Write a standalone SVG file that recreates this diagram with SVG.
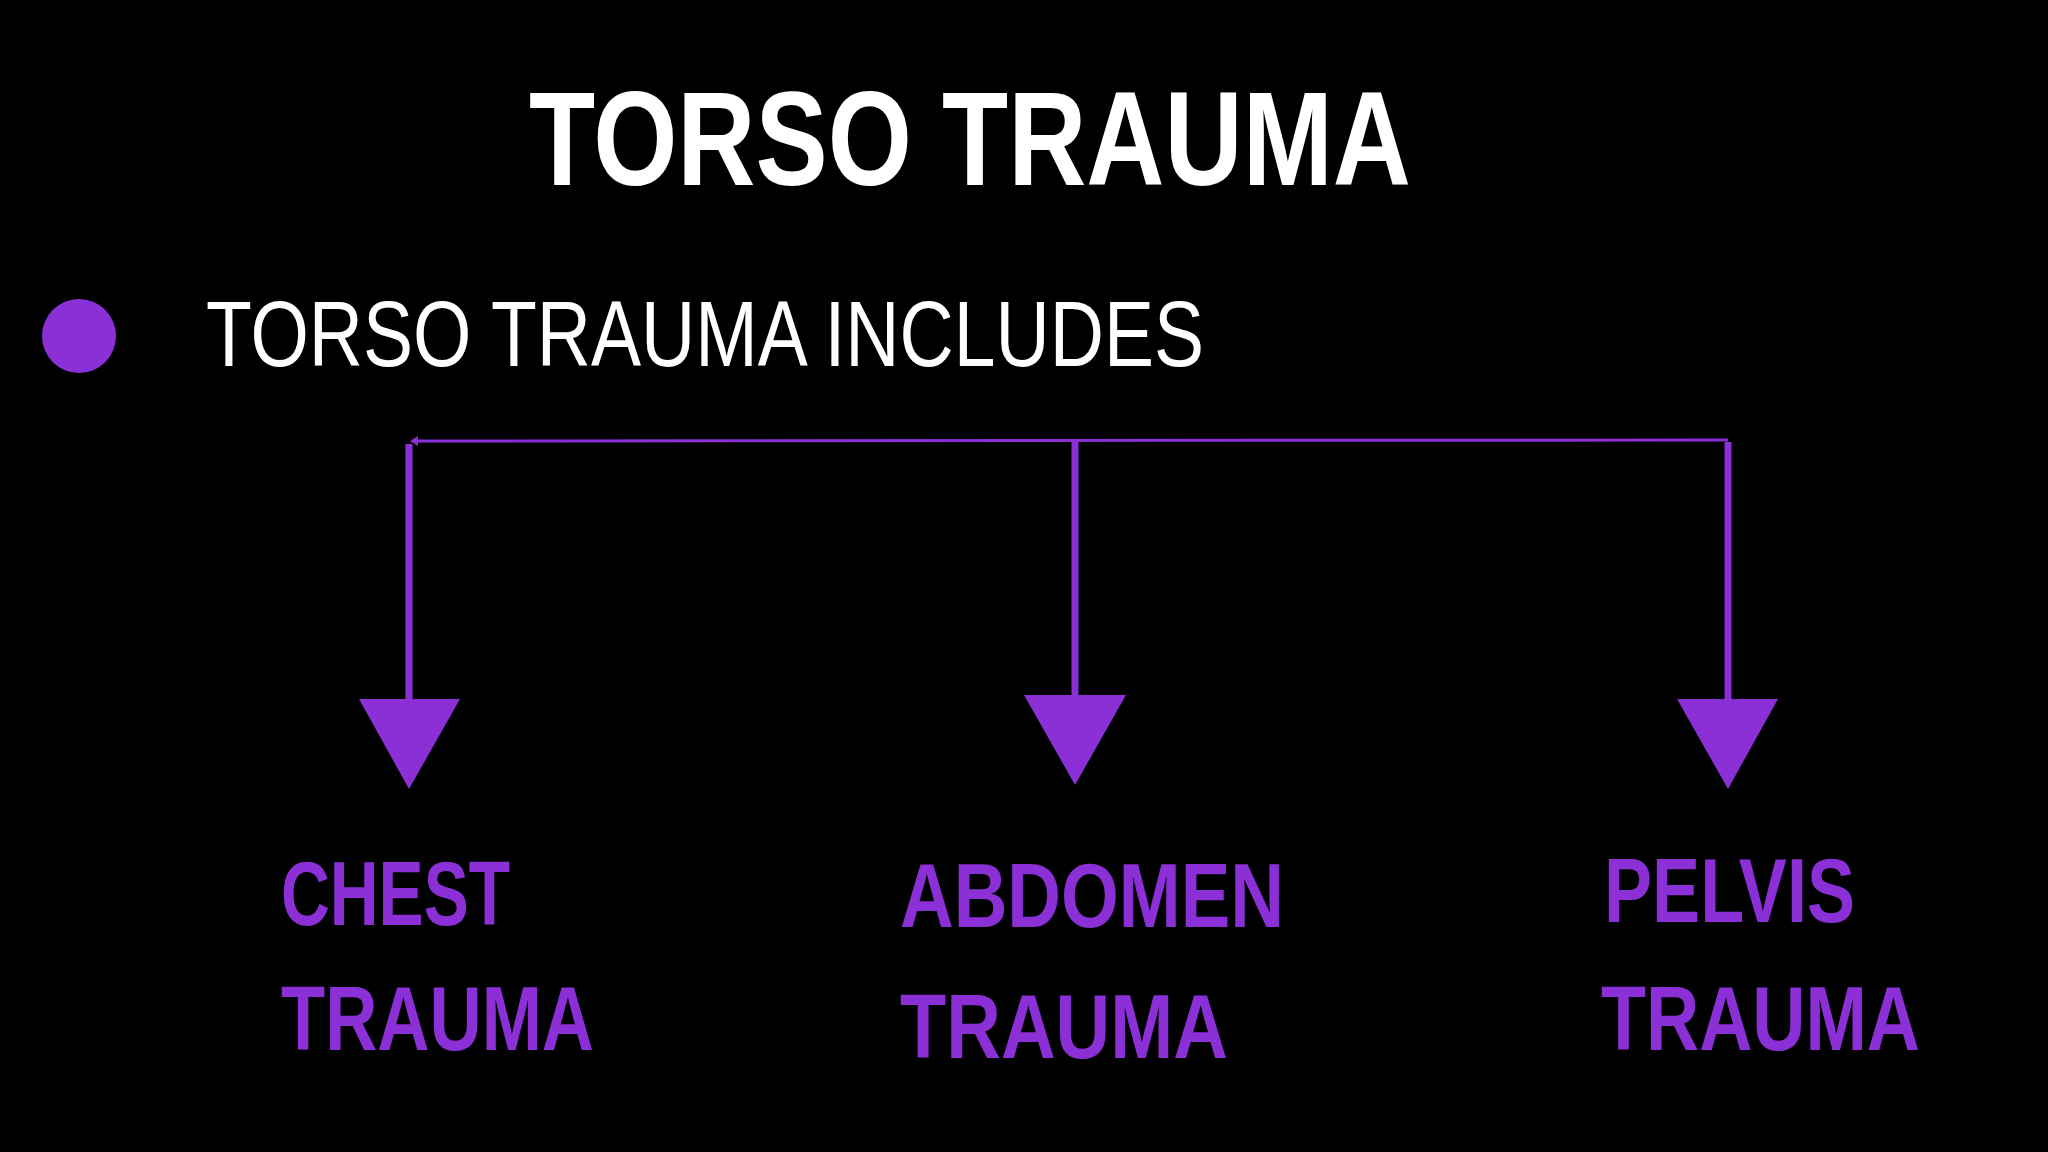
<svg xmlns="http://www.w3.org/2000/svg" width="2048" height="1152" viewBox="0 0 2048 1152">
<style>
.t{font-family:"Liberation Sans",Arial,sans-serif;font-weight:bold;fill:#8b2fd6;font-size:90px}
.v{stroke:#8b2fd6;stroke-width:7}
.h{fill:#8b2fd6}
</style>
<rect width="2048" height="1152" fill="#000"/>
<g id="title"><text x="529" y="185" font-family="Liberation Sans,Arial,sans-serif" font-weight="bold" font-size="134" fill="#fff" textLength="882" lengthAdjust="spacingAndGlyphs">TORSO TRAUMA</text></g>
<g id="bullet"><circle cx="79" cy="336" r="37" fill="#8b2fd6"/>
<text x="206" y="366" font-family="Liberation Sans,Arial,sans-serif" font-size="92" fill="#fff" textLength="998" lengthAdjust="spacingAndGlyphs">TORSO TRAUMA INCLUDES</text></g>
<g id="connectors">
<line x1="1728" y1="440" x2="412" y2="441" stroke="#8b2fd6" stroke-width="3"/>
<path d="M410 441 L418 436 L418 446 Z" fill="#8b2fd6"/>
<line class="v" x1="409" y1="444" x2="409" y2="702"/>
<path class="h" d="M359 699 L460 699 L409 789 Z"/>
<line class="v" x1="1075" y1="440" x2="1075" y2="698"/>
<path class="h" d="M1024 695 L1126 695 L1075 785 Z"/>
<line class="v" x1="1728" y1="442" x2="1728" y2="702"/>
<path class="h" d="M1677 699 L1778 699 L1728 789 Z"/>
</g>
<g id="chest"><text class="t" x="281" y="925" textLength="229" lengthAdjust="spacingAndGlyphs">CHEST</text><text class="t" x="281" y="1050" textLength="313" lengthAdjust="spacingAndGlyphs">TRAUMA</text></g>
<g id="abdomen"><text class="t" x="900" y="927" textLength="384" lengthAdjust="spacingAndGlyphs">ABDOMEN</text><text class="t" x="900" y="1058" textLength="328" lengthAdjust="spacingAndGlyphs">TRAUMA</text></g>
<g id="pelvis"><text class="t" x="1604" y="922" textLength="251" lengthAdjust="spacingAndGlyphs">PELVIS</text><text class="t" x="1601" y="1050" textLength="319" lengthAdjust="spacingAndGlyphs">TRAUMA</text></g>
</svg>
